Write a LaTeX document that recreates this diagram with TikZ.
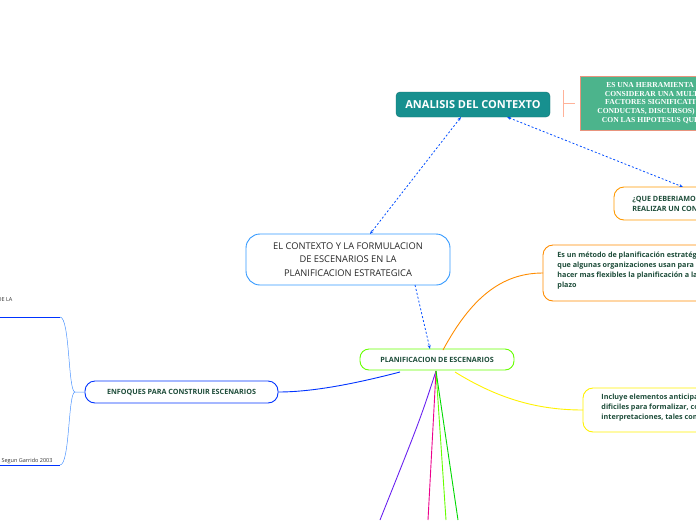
\documentclass[tikz,border=0pt]{standalone}
\usepackage{fontspec}
\setmainfont{Open Sans}
\newfontfamily\serifb{Liberation Serif}
\usetikzlibrary{arrows.meta}
\definecolor{dgreen}{HTML}{1E4D3A}
\definecolor{teal1}{HTML}{17908F}
\definecolor{sea}{HTML}{4CB48C}
\definecolor{purp}{HTML}{6A22F0}
\tikzset{
 bub/.style={rounded corners=10pt,line width=0.9pt,fill=white,align=left,text=dgreen,font=\fontsize{7.2}{10}\selectfont\bfseries,inner sep=0pt},
 dashln/.style={line width=0.8pt,color=blue!70!cyan,dash pattern=on 2pt off 2pt},
 br/.style={line width=0.9pt}
}
\begin{document}
\begin{tikzpicture}[x=1pt,y=-1pt]
\useasboundingbox (0,0) rectangle (696,520);
\clip (0,0) rectangle (696,520);
\draw[rounded corners=4pt,fill=teal1,draw=teal1!80!black] (396,92) rectangle (550,117);
\node[font=\fontsize{11}{12}\selectfont\bfseries,text=white] (ana) at (473,104.5) {ANALISIS DEL CONTEXTO};
\coordinate (anaA) at (461,117); \coordinate (anaB) at (507,117);
\draw[fill=sea,draw=red!40!brown!60] (580,76) rectangle (760,130);
\node[font=\serifb\fontsize{7.6}{8.9}\selectfont\bfseries,text=white,align=center] (gr) at (678,103) {ES UNA HERRAMIENTA QUE PERMITE\\CONSIDERAR UNA MULTIPLICIDAD DE\\FACTORES SIGNIFICATIVOS (SUJETOS,\\CONDUCTAS, DISCURSOS) RELACIONADOS\\CON LAS HIPOTESUS QUE SE PLANTEAN};
\draw[orange!50!red!40,line width=0.9pt] (563,90) -- (563,117) (563,103) -- (575,103);
\draw[bub,draw=orange!80!yellow] (614,187) rectangle (760,220);
\node[bub,align=left,anchor=west] (que) at (632,203.5) {¿QUE DEBERIAMOS TENER EN CUENTA PARA\\REALIZAR UN CONTEXTO?};
\draw[rounded corners=14pt,line width=0.9pt,draw=blue!50!cyan!80,fill=white] (246,234) rectangle (450,285);
\node[font=\fontsize{9.3}{13.5}\selectfont,text=black!85,align=center] (ctx) at (348,259.5) {EL CONTEXTO Y LA FORMULACION\\DE ESCENARIOS EN LA\\PLANIFICACION ESTRATEGICA};
\draw[rounded corners=9pt,line width=0.9pt,draw=green!60!yellow,fill=white] (360,349) rectangle (514,370);
\node[bub] (plan) at (437,359.5) {PLANIFICACION DE ESCENARIOS};
\draw[bub,draw=orange!90!yellow] (543,245) rectangle (760,301);
\node[bub,anchor=north west] (met) at (557,252) {Es un método de planificación estratégica\\que algunas organizaciones usan para\\hacer mas flexibles la planificación a largo\\plazo};
\draw[bub,draw=yellow] (583,388) rectangle (760,432);
\node[bub,anchor=north west] (inc) at (601,394) {Incluye elementos anticipatorios\\dificiles para formalizar, como las\\interpretaciones, tales como};
\draw[rounded corners=10pt,line width=0.9pt,draw=blue!80!cyan,fill=white] (85,381) rectangle (278,403);
\node[bub] (enf) at (181.5,392) {ENFOQUES PARA CONSTRUIR ESCENARIOS};
\draw[dashln,{Stealth[length=4pt]}-{Stealth[length=4pt]}] (anaA) -- (370,234);
\draw[dashln,{Stealth[length=4pt]}-{Stealth[length=4pt]}] (anaB) -- (683,187);
\draw[dashln,-{Stealth[length=4pt]}] (415,285) -- (430,349);
\coordinate (pb) at (436,371);
\draw[br,purp] (pb) .. controls (420,420) .. (380,520);
\draw[br,magenta] (pb) -- (428,520);
\draw[br,green!60!yellow] (pb) -- (446,520);
\draw[br,green!85!black] (pb) -- (458,520);
\draw[br,blue!80!cyan] (400,372) .. controls (350,385) and (310,392) .. (278,392);
\draw[br,orange!90!yellow] (443,350) .. controls (470,300) and (500,273) .. (543,273);
\draw[br,yellow] (455,372) .. controls (500,400) and (540,410) .. (583,410);
\draw[line width=0.5pt,blue!60!cyan!70] (85,392) -- (75,392) .. controls (68,392) and (70,317) .. (60,317);
\draw[line width=0.5pt,blue!60!cyan!70] (75,392) .. controls (68,392) and (70,465) .. (60,465);
\draw[br,blue!80!cyan] (0,317) -- (60,317) (0,465) -- (60,465);
\node[font=\fontsize{5.5}{6}\selectfont,anchor=east,text=black!80] (dl) at (16,300) {DE LA};
\node[font=\fontsize{5.5}{6}\selectfont,anchor=east,text=black!80] (sg) at (56,461) {Segun Garrido 2003};
\end{tikzpicture}
\end{document}
